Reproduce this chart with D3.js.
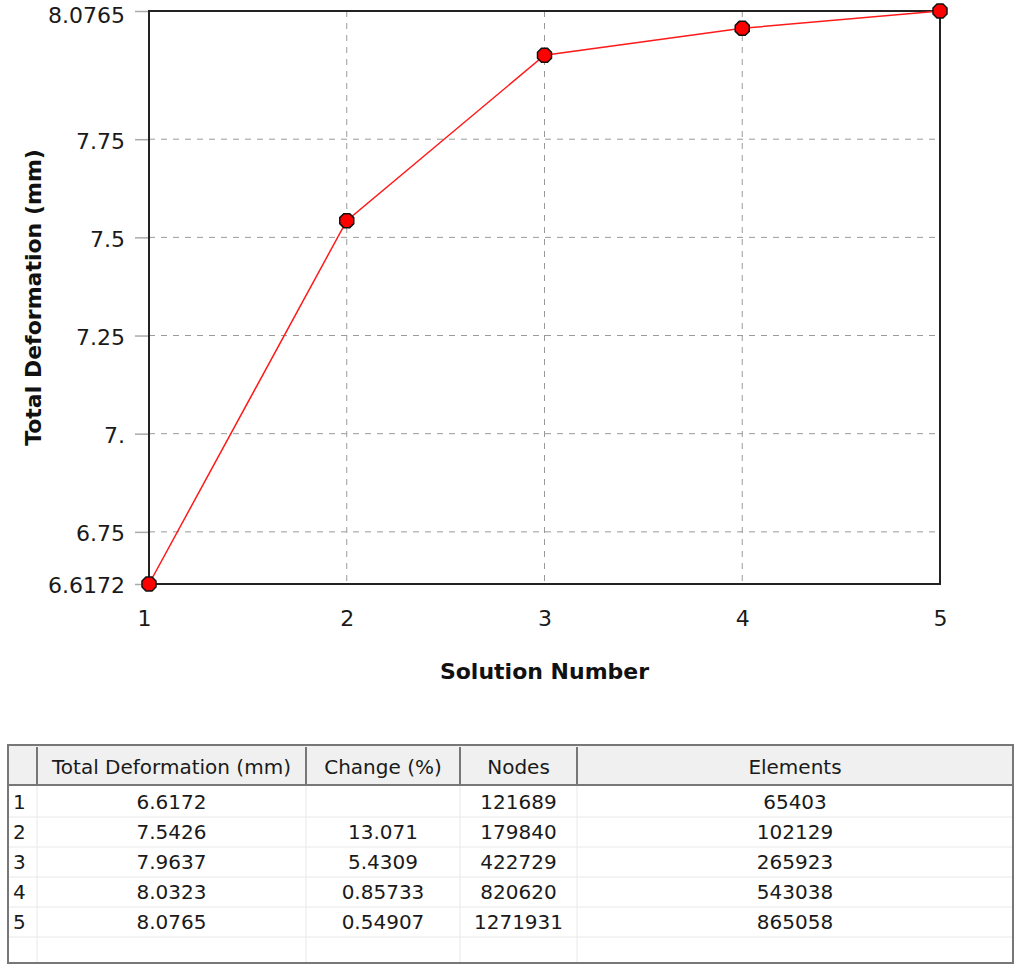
<!DOCTYPE html>
<html>
<head>
<meta charset="utf-8">
<script src="https://cdn.jsdelivr.net/npm/d3@7"></script>
<style>
  body { margin: 0; background: #fff; }
  svg { display: block; font-family: "DejaVu Sans", Verdana, sans-serif; }
  .grid line { stroke: #9a9a9a; stroke-dasharray: 6,6; }
</style>
</head>
<body>
<svg id="paper"></svg>
<script>
let solutions = [1, 2, 3, 4, 5];
let deformation = [6.6172, 7.5426, 7.9637, 8.0323, 8.0765];
let changePct = ["", "13.071", "5.4309", "0.85733", "0.54907"];
let nodes = [121689, 179840, 422729, 820620, 1271931];
let elements = [65403, 102129, 265923, 543038, 865058];
let yTicks = [6.6172, 6.75, 7, 7.25, 7.5, 7.75, 8.0765];
let yTickLabels = ["6.6172", "6.75", "7.", "7.25", "7.5", "7.75", "8.0765"];
let columns = ["", "Total Deformation (mm)", "Change (%)", "Nodes", "Elements"];

let width = 1017, height = 965;
let margin = {top: 11, right: 77, bottom: 381, left: 149};

let svg = d3.select("#paper")
    .attr("width", width)
    .attr("height", height);

let x = d3.scaleLinear()
    .domain([1, 5])
    .range([margin.left, width - margin.right]);
let y = d3.scaleLinear()
    .domain([deformation[0], deformation[4]])
    .range([height - margin.bottom, margin.top]);

// grid
let grid = svg.append("g").attr("class", "grid");
grid.selectAll(".vg")
    .data(solutions.slice(1, 4))
    .enter()
    .append("line")
    .attr("x1", d => x(d)).attr("x2", d => x(d))
    .attr("y1", y.range()[1]).attr("y2", y.range()[0]);
grid.selectAll(".hg")
    .data(yTicks.slice(1, 6))
    .enter()
    .append("line")
    .attr("x1", x.range()[0]).attr("x2", x.range()[1])
    .attr("y1", d => y(d)).attr("y2", d => y(d));

// axes
let yAxis = d3.axisLeft(y)
    .tickValues(yTicks)
    .tickFormat((d, i) => yTickLabels[i])
    .tickSize(14)
    .tickPadding(10);
let yg = svg.append("g")
    .attr("transform", "translate(" + margin.left + ",0)")
    .call(yAxis)
    .attr("font-size", 22)
    .attr("font-family", null);
yg.select(".domain").remove();
yg.selectAll(".tick line").attr("stroke", "#aaa").attr("stroke-width", 1.5);
yg.selectAll(".tick text").attr("fill", "#1a1a1a").attr("dy", (d, i) => i == 6 ? "0.5em" : "0.4em");

let xAxis = d3.axisBottom(x)
    .tickValues(solutions)
    .tickFormat(d3.format("d"))
    .tickSize(0)
    .tickPadding(26);
let xg = svg.append("g")
    .attr("transform", "translate(0," + y.range()[0] + ")")
    .call(xAxis)
    .attr("font-size", 22)
    .attr("font-family", null);
xg.select(".domain").remove();
xg.selectAll(".tick text").attr("fill", "#1a1a1a").attr("dx", (d, i) => i == 0 ? "-5" : "0");

// frame
svg.append("rect")
    .attr("x", x.range()[0])
    .attr("y", y.range()[1])
    .attr("width", x.range()[1] - x.range()[0])
    .attr("height", y.range()[0] - y.range()[1])
    .attr("fill", "none")
    .attr("stroke", "#222")
    .attr("stroke-width", 2);

// axis titles
svg.append("text")
    .attr("transform", "translate(41," + ((y.range()[0] + y.range()[1]) / 2) + ") rotate(-90)")
    .attr("text-anchor", "middle")
    .attr("font-weight", "bold")
    .attr("font-size", 22)
    .attr("fill", "#111")
    .text("Total Deformation  (mm)");
svg.append("text")
    .attr("x", (x.range()[0] + x.range()[1]) / 2)
    .attr("y", 679)
    .attr("text-anchor", "middle")
    .attr("font-weight", "bold")
    .attr("font-size", 22)
    .attr("fill", "#111")
    .text("Solution Number");

// line + markers
let line = d3.line()
    .x((d, i) => x(solutions[i]))
    .y(d => y(d));
svg.append("path")
    .datum(deformation)
    .attr("d", line)
    .attr("fill", "none")
    .attr("stroke", "#ff1a1a")
    .attr("stroke-width", 1.5);

svg.selectAll(".pt")
    .data(deformation)
    .enter()
    .append("path")
    .attr("class", "pt")
    .attr("transform", (d, i) => "translate(" + x(solutions[i]) + "," + y(d) + ")")
    .attr("d", "M-3,-7L3,-7L7,-3L7,3L3,7L-3,7L-7,3L-7,-3Z")
    .attr("fill", "#ff0000")
    .attr("stroke", "#111")
    .attr("stroke-width", 1.5);

// table
let tbl = {x: 8, y: 745, w: 1005, h: 218, header: 40, row: 30};
let colEdges = [8, 37, 306, 460, 577, 1013];
let rows = solutions.map((s, i) => [s, deformation[i].toFixed(4), changePct[i], nodes[i], elements[i]]);

let t = svg.append("g");
t.append("rect")
    .attr("x", tbl.x).attr("y", tbl.y)
    .attr("width", tbl.w).attr("height", tbl.header)
    .attr("fill", "#f0f0f0");

// row separators
t.selectAll(".rowline")
    .data(d3.range(1, rows.length + 2))
    .enter()
    .append("line")
    .attr("x1", tbl.x).attr("x2", tbl.x + tbl.w)
    .attr("y1", d => tbl.y + tbl.header + d * tbl.row + 2)
    .attr("y2", d => tbl.y + tbl.header + d * tbl.row + 2)
    .attr("stroke", "#e8e8e8");

// body column separators
t.selectAll(".colline")
    .data(colEdges.slice(1, 5))
    .enter()
    .append("line")
    .attr("x1", d => d).attr("x2", d => d)
    .attr("y1", tbl.y + tbl.header).attr("y2", tbl.y + tbl.h)
    .attr("stroke", "#e8e8e8");

// header column separators
t.selectAll(".hcol")
    .data(colEdges.slice(1, 5))
    .enter()
    .append("line")
    .attr("x1", d => d).attr("x2", d => d)
    .attr("y1", tbl.y + 2).attr("y2", tbl.y + tbl.header)
    .attr("stroke", "#777")
    .attr("stroke-width", 2);

t.append("line")
    .attr("x1", tbl.x).attr("x2", tbl.x + tbl.w)
    .attr("y1", tbl.y + tbl.header).attr("y2", tbl.y + tbl.header)
    .attr("stroke", "#777")
    .attr("stroke-width", 2);

t.append("rect")
    .attr("x", tbl.x).attr("y", tbl.y)
    .attr("width", tbl.w).attr("height", tbl.h)
    .attr("fill", "none")
    .attr("stroke", "#777")
    .attr("stroke-width", 2);

t.selectAll(".htext")
    .data(columns)
    .enter()
    .append("text")
    .attr("x", (d, i) => (colEdges[i] + colEdges[i + 1]) / 2)
    .attr("y", tbl.y + 29)
    .attr("text-anchor", "middle")
    .attr("font-size", 20)
    .attr("fill", "#1a1a1a")
    .text(d => d);

rows.forEach((r, ri) => {
    t.selectAll(".cell" + ri)
        .data(r)
        .enter()
        .append("text")
        .attr("x", (d, i) => i == 0 ? colEdges[0] + 5 : (colEdges[i] + colEdges[i + 1]) / 2)
        .attr("y", tbl.y + tbl.header + ri * tbl.row + 24)
        .attr("text-anchor", (d, i) => i == 0 ? "start" : "middle")
        .attr("font-size", 20)
        .attr("fill", "#1a1a1a")
        .text(d => d);
});
</script>
</body>
</html>
